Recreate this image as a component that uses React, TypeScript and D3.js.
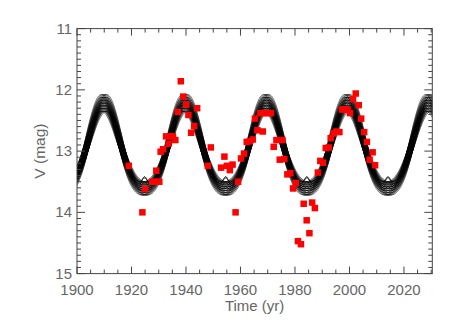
import React from 'react';
import * as d3 from 'd3';

// ---- data ----
const xTickLabels = [1900, 1920, 1940, 1960, 1980, 2000, 2020];
const yTickLabels = [11, 12, 13, 14, 15];

const obsYear = [
  1919.0, 1924.0, 1925.0, 1927.6, 1928.6, 1929.1, 1930.2, 1930.7, 1931.6, 1932.7,
  1933.6, 1934.2, 1935.2, 1936.1, 1937.0, 1938.1, 1939.0, 1940.1, 1940.9, 1941.9,
  1943.0, 1944.1, 1948.0, 1949.1, 1952.9, 1954.1, 1955.0, 1956.1, 1957.1, 1958.2,
  1959.1, 1960.2, 1961.3, 1962.3, 1963.4, 1964.5, 1965.3, 1966.2, 1967.3, 1968.2,
  1968.6, 1969.9, 1971.2, 1972.2, 1973.2, 1974.4, 1975.4, 1976.1, 1977.2, 1978.3,
  1979.3, 1980.3, 1981.1, 1982.2, 1983.2, 1984.3, 1985.3, 1986.3, 1987.3, 1988.4,
  1989.3, 1990.3, 1991.3, 1992.4, 1993.1, 1994.2, 1995.2, 1996.3, 1997.3, 1998.3,
  1999.3, 2000.2, 2001.3, 2002.3, 2003.4, 2004.3, 2005.4, 2006.4, 2007.4, 2008.5,
  2009.4,
];
const obsMag = [
  13.24, 14.0, 13.62, 13.5, 13.5, 13.32, 13.5, 13.01, 12.97, 12.76,
  12.88, 12.76, 12.76, 12.82, 12.36, 11.86, 12.11, 12.24, 12.41, 12.7,
  12.59, 12.3, 13.24, 12.94, 13.27, 13.09, 13.24, 13.31, 13.22, 14.0,
  13.5, 13.12, 13.04, 12.85, 12.84, 12.81, 12.47, 12.66, 12.38, 12.68,
  12.38, 12.38, 12.38, 12.93, 12.82, 13.14, 12.82, 13.13, 13.38, 13.36,
  13.61, 13.52, 14.47, 14.52, 13.86, 14.13, 14.34, 13.84, 13.93, 13.35,
  13.16, 13.19, 12.95, 12.94, 12.79, 12.71, 12.68, 12.69, 12.32, 12.32,
  12.32, 12.38, 12.15, 12.06, 12.25, 12.47, 12.69, 12.85, 13.14, 13.02,
  13.23,
];

// model ensemble parameters
const modelPeriod = 29.78;
const modelEpoch = 1909.9;
const modelMean = 13.0;
const modelHarmonic = -0.125; // second harmonic, relative to amplitude
const modelAmplitudes = [0.58, 0.62, 0.66, 0.7, 0.74, 0.78, 0.82];
const modelPhaseShifts = [-1.0, -0.5, 0, 0.5, 1.0];
const modelBumps = [0, 0.1, 0.16, 0.19, 0.15, 0.1, 0];
const modelBumpWidth = 1.0;

const W = 474;
const H = 330;
const L = 77;
const R = 432.3;
const T = 28.6;
const B = 273.6;

export default function App() {
  const x = d3.scaleLinear().domain([1900, 2030.4]).range([L, R]);
  const y = d3.scaleLinear().domain([11, 15]).range([T, B]);

  const model = (t: number, a: number, shift: number, bump: number) => {
    const ph = (2 * Math.PI * (t - modelEpoch - shift)) / modelPeriod;
    let m = modelMean - a * Math.cos(ph) + modelHarmonic * a * Math.cos(2 * ph);
    if (bump > 0) {
      const cyc = (t - modelEpoch - shift) / modelPeriod - 0.5;
      const d = (cyc - Math.round(cyc)) * modelPeriod;
      m -= bump * Math.exp(-(d * d) / (2 * modelBumpWidth * modelBumpWidth));
    }
    return m;
  };

  const times = d3.range(1895, 2036, 0.05);
  const line = d3
    .line<number>()
    .x((t) => x(t))
    .curve(d3.curveLinear);

  const curves: { key: string; d: string }[] = [];
  modelAmplitudes.forEach((a, i) => {
    modelPhaseShifts.forEach((s, j) => {
      const bump = s === 0 ? modelBumps[i] : 0;
      const d = line.y((t) => y(model(t, a, s, bump)))(times) as string;
      curves.push({ key: `${i}-${j}`, d });
    });
  });

  const xMinor = d3.range(1900, 2031, 5);
  const yMinor = d3.range(110, 151, 1).map((v) => v / 10);
  const axisColor = '#454545';
  const textColor = '#666666';
  const font = "'Liberation Sans', Arial, sans-serif";
  const sq = 6.5;

  return (
    <svg
      width={W}
      height={H}
      style={{ position: 'absolute', left: 0, top: 0, background: '#fff' }}
    >
      <defs>
        <clipPath id="plotclip">
          <rect x={L} y={T} width={R - L} height={B - T} />
        </clipPath>
      </defs>
      <rect x={0} y={0} width={W} height={H} fill="#fff" />
      <g clipPath="url(#plotclip)">
        {curves.map((c) => (
          <path key={c.key} d={c.d} fill="none" stroke="#000" strokeWidth={0.75} strokeOpacity={0.85} />
        ))}
        {obsYear.map((t, i) => (
          <rect
            key={i}
            x={x(t) - sq / 2}
            y={y(obsMag[i]) - sq / 2}
            width={sq}
            height={sq}
            fill="#ff0000"
          />
        ))}
      </g>
      {/* frame */}
      <rect x={L} y={T} width={R - L} height={B - T} fill="none" stroke={axisColor} strokeWidth={1} />
      {/* x ticks */}
      {xMinor.map((t) => {
        const major = t % 20 === 0;
        const len = major ? 7 : 4;
        const px = x(t);
        return (
          <g key={`xt${t}`} stroke={axisColor} strokeWidth={1}>
            <line x1={px} x2={px} y1={B} y2={B - len} />
            <line x1={px} x2={px} y1={T} y2={T + len} />
          </g>
        );
      })}
      {/* y ticks */}
      {yMinor.map((v) => {
        const major = Math.abs(v - Math.round(v)) < 1e-6;
        const len = major ? 8 : 4;
        const py = y(v);
        return (
          <g key={`yt${v}`} stroke={axisColor} strokeWidth={1}>
            <line x1={L} x2={L + len} y1={py} y2={py} />
            <line x1={R} x2={R - len} y1={py} y2={py} />
          </g>
        );
      })}
      {xTickLabels.map((t) => (
        <text
          key={`xl${t}`}
          x={x(t)}
          y={B + 21}
          textAnchor="middle"
          fontFamily={font}
          fontSize={15}
          fill={textColor}
        >
          {t}
        </text>
      ))}
      {yTickLabels.map((v) => (
        <text
          key={`yl${v}`}
          x={L - 5}
          y={y(v) + 5}
          textAnchor="end"
          fontFamily={font}
          fontSize={15}
          fill={textColor}
        >
          {v}
        </text>
      ))}
      <text
        x={(L + R) / 2}
        y={311}
        textAnchor="middle"
        fontFamily={font}
        fontSize={15}
        fill={textColor}
      >
        Time (yr)
      </text>
      <text
        transform={`translate(45, ${(T + B) / 2}) rotate(-90)`}
        textAnchor="middle"
        fontFamily={font}
        fontSize={15.5}
        fill={textColor}
      >
        V (mag)
      </text>
    </svg>
  );
}
